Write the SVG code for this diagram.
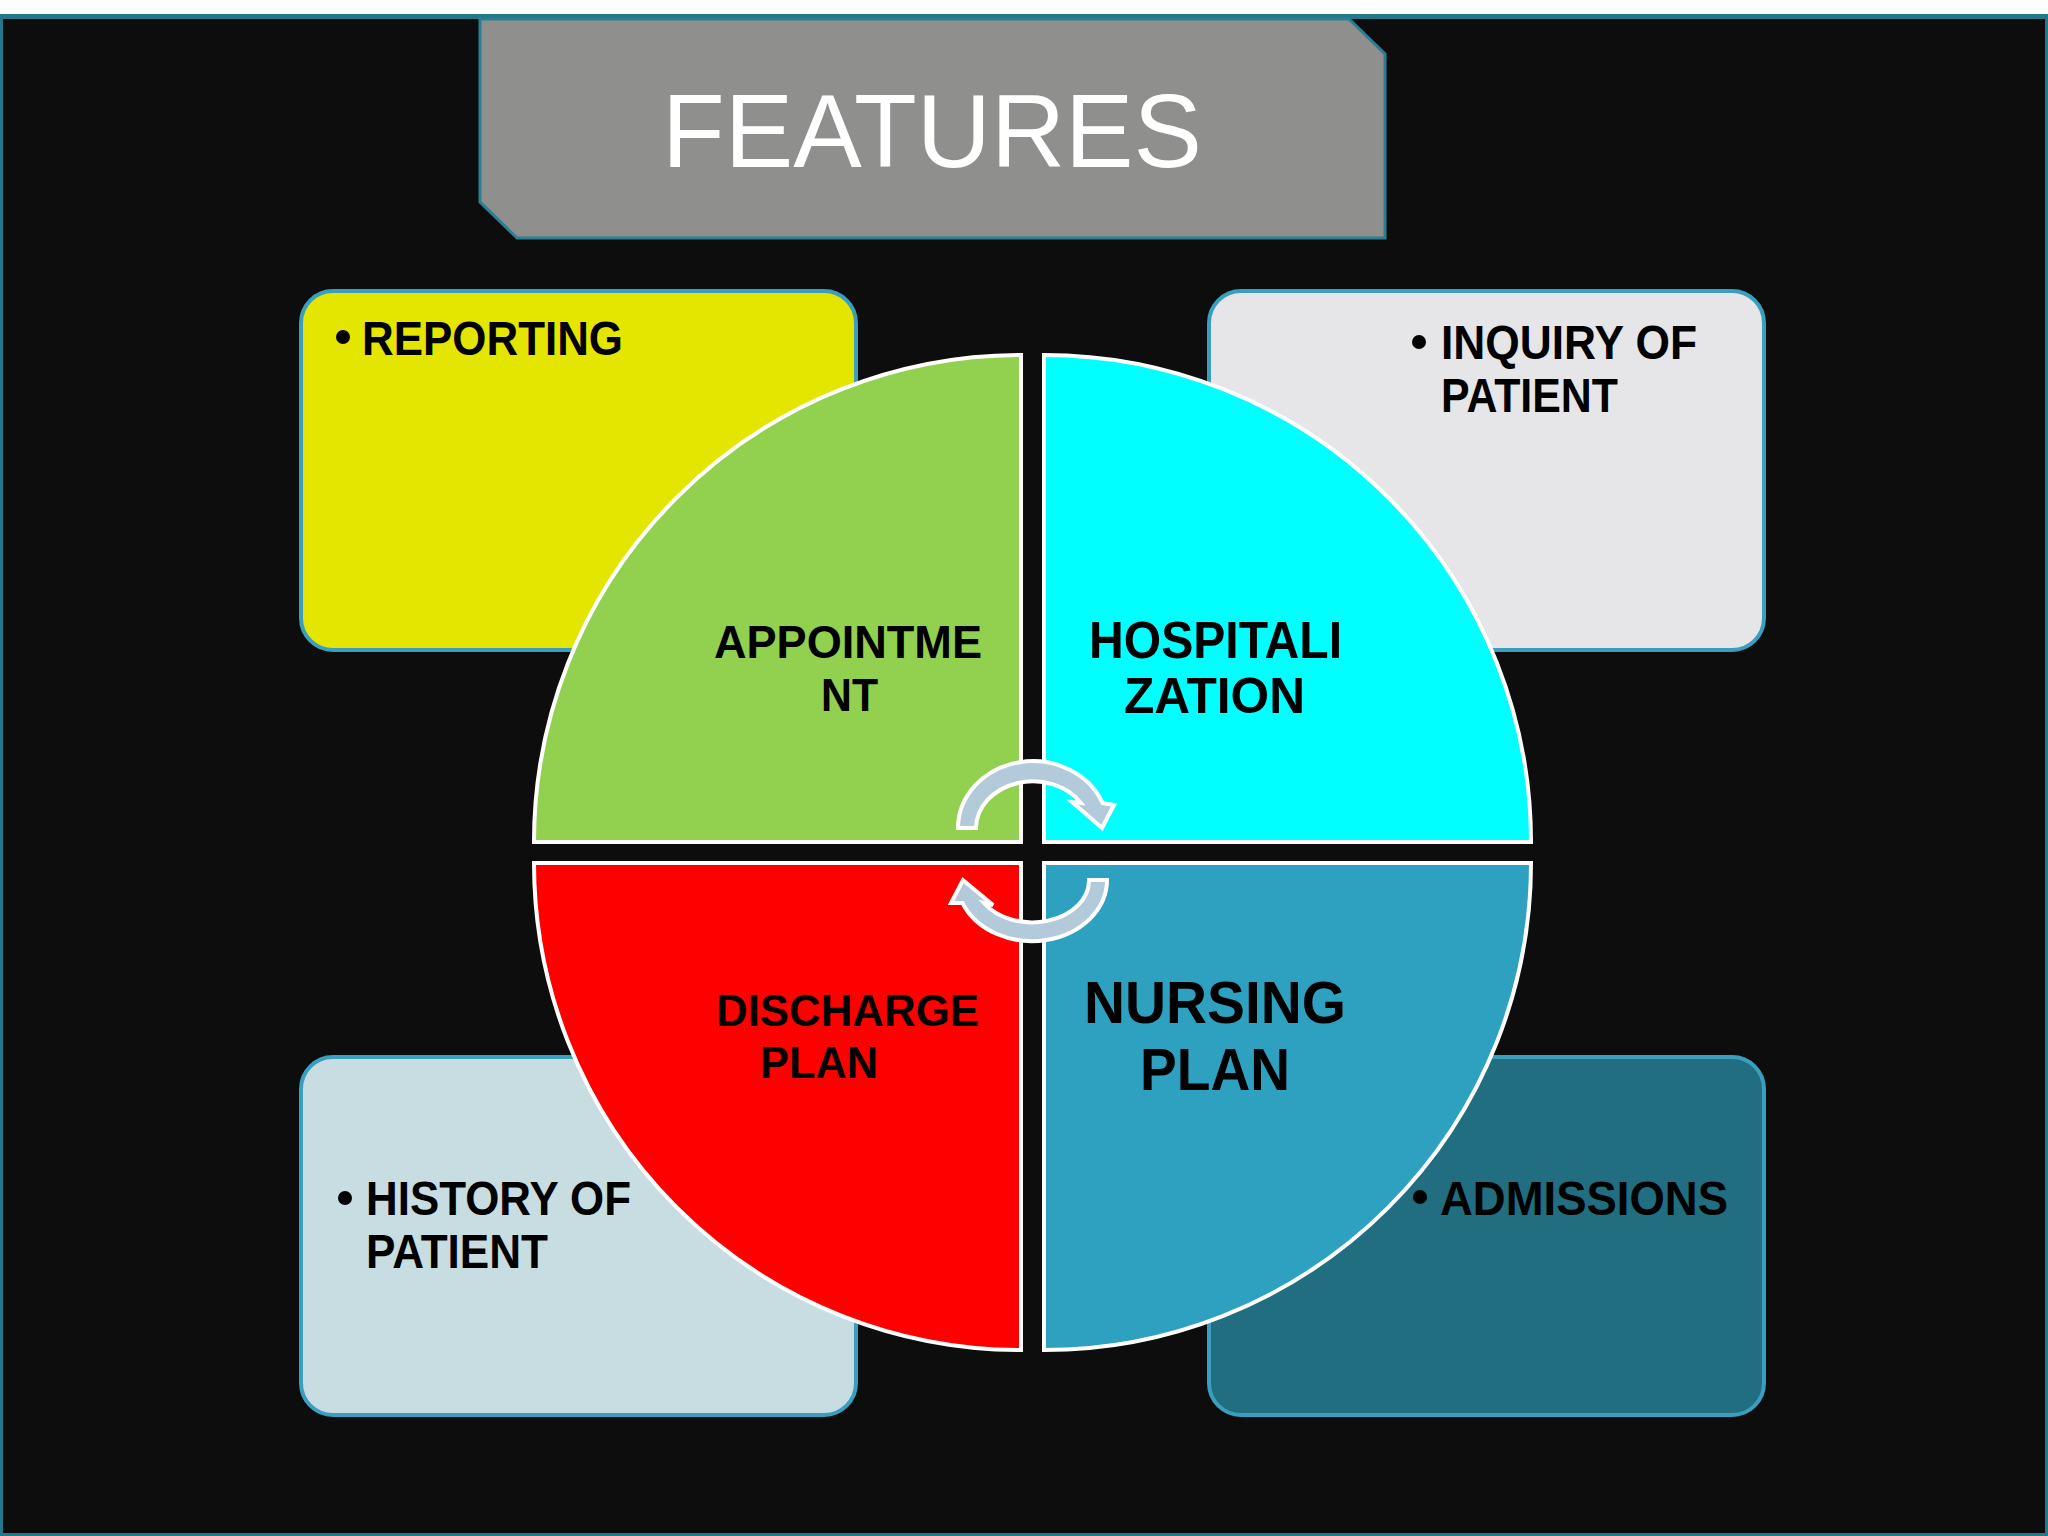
<svg xmlns="http://www.w3.org/2000/svg" width="2048" height="1536" viewBox="0 0 2048 1536">
  <style>
    .box { stroke: #3a9fbf; stroke-width: 4; }
    .quad { stroke: #ffffff; stroke-width: 4; }
    .lbl { font-family: 'Liberation Sans Narrow', 'Liberation Sans', Arial, sans-serif; font-weight: bold; fill: #000000; }
    .arrow { fill: #b3cadb; stroke: #ffffff; stroke-width: 4; stroke-linejoin: miter; }
  </style>
  <rect x="0" y="0" width="2048" height="1536" fill="#ffffff"/>
  <rect x="0" y="14" width="2048" height="1522" fill="#23788b"/>
  <rect x="3" y="19" width="2042" height="1514" fill="#0e0d0d"/>

  <g id="title">
    <path d="M480,19 L1349,19 L1385,54 L1385,238 L517,238 L480,202 Z" fill="#8f8f8e" stroke="#2b7f92" stroke-width="3"/>
    <text x="662" y="167" font-family="'Liberation Sans', Arial, sans-serif" font-size="103" fill="#ffffff" textLength="540" lengthAdjust="spacingAndGlyphs">FEATURES</text>
  </g>

  <g id="box-reporting">
    <rect class="box" x="301" y="291" width="555" height="359" rx="32" fill="#e5e600"/>
    <circle cx="343" cy="337" r="7" fill="#000"/>
    <text class="lbl" x="362" y="355" font-size="49" textLength="261" lengthAdjust="spacingAndGlyphs">REPORTING</text>
  </g>
  <g id="box-inquiry">
    <rect class="box" x="1209" y="291" width="555" height="359" rx="32" fill="#e6e6e8"/>
    <circle cx="1419" cy="342" r="7" fill="#000"/>
    <text class="lbl" x="1441" y="359" font-size="48" textLength="256" lengthAdjust="spacingAndGlyphs">INQUIRY OF</text>
    <text class="lbl" x="1441" y="412" font-size="48" textLength="177" lengthAdjust="spacingAndGlyphs">PATIENT</text>
  </g>
  <g id="box-history">
    <rect class="box" x="301" y="1057" width="555" height="358" rx="32" fill="#c8dde2"/>
    <circle cx="345" cy="1198" r="7" fill="#000"/>
    <text class="lbl" x="366" y="1215" font-size="48" textLength="265" lengthAdjust="spacingAndGlyphs">HISTORY OF</text>
    <text class="lbl" x="366" y="1268" font-size="48" textLength="182" lengthAdjust="spacingAndGlyphs">PATIENT</text>
  </g>
  <g id="box-admissions">
    <rect class="box" x="1209" y="1057" width="555" height="358" rx="32" fill="#216e80"/>
    <circle cx="1420" cy="1197" r="7" fill="#000"/>
    <text class="lbl" x="1440" y="1215" font-size="48" textLength="288" lengthAdjust="spacingAndGlyphs">ADMISSIONS</text>
  </g>

  <g id="q-appointment">
    <path class="quad" d="M1021,842 L534,842 A487,487 0 0 1 1021,355 Z" fill="#92d050"/>
    <text class="lbl" x="714" y="658" font-size="46" textLength="268" lengthAdjust="spacingAndGlyphs">APPOINTME</text>
    <text class="lbl" x="821" y="711" font-size="47" textLength="57" lengthAdjust="spacingAndGlyphs">NT</text>
  </g>
  <g id="q-hospitalization">
    <path class="quad" d="M1044,842 L1044,355 A487,487 0 0 1 1531,842 Z" fill="#00ffff"/>
    <text class="lbl" x="1089" y="658" font-size="52" textLength="253" lengthAdjust="spacingAndGlyphs">HOSPITALI</text>
    <text class="lbl" x="1124" y="713" font-size="50" textLength="181" lengthAdjust="spacingAndGlyphs">ZATION</text>
  </g>
  <g id="q-discharge">
    <path class="quad" d="M1021,863 L1021,1350 A487,487 0 0 1 534,863 Z" fill="#ff0000"/>
    <text class="lbl" x="716" y="1026" font-size="44" textLength="263" lengthAdjust="spacingAndGlyphs">DISCHARGE</text>
    <text class="lbl" x="760" y="1078" font-size="45" textLength="118" lengthAdjust="spacingAndGlyphs">PLAN</text>
  </g>
  <g id="q-nursing">
    <path class="quad" d="M1044,863 L1531,863 A487,487 0 0 1 1044,1350 Z" fill="#2ea1c0"/>
    <text class="lbl" x="1084" y="1023" font-size="60" textLength="262" lengthAdjust="spacingAndGlyphs">NURSING</text>
    <text class="lbl" x="1140" y="1090" font-size="60" textLength="150" lengthAdjust="spacingAndGlyphs">PLAN</text>
  </g>

  <g id="connectors">
    <path class="arrow" d="M958,828 A75,67 0 0 1 1102.5,803 L1114,805 L1102,828 L1072,802 L1081,803 A57,47 0 0 0 976,828 Z"/>
    <path class="arrow" d="M1107,880 A75,61 0 0 1 962.5,903 L951,903 L963,880 L993,905 L984,903 A57,42 0 0 0 1089,880 Z"/>
  </g>
</svg>
